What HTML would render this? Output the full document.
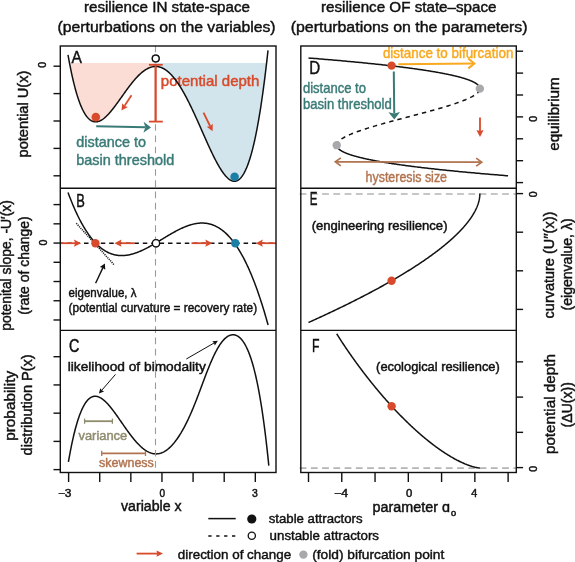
<!DOCTYPE html>
<html><head><meta charset="utf-8"><style>
html,body{margin:0;padding:0;background:#fff;width:575px;height:562px;overflow:hidden}
svg{display:block;will-change:transform}
text{font-family:"Liberation Sans",sans-serif}
</style></head><body>
<svg width="575" height="562" viewBox="0 0 575 562">
<rect width="575" height="562" fill="#fff"/>
<path d="M69.49,63.00 L69.78,64.51 L70.07,65.99 L70.36,67.45 L70.64,68.88 L70.93,70.29 L71.22,71.68 L71.51,73.04 L71.80,74.38 L72.09,75.70 L72.37,76.99 L72.66,78.26 L72.95,79.51 L73.24,80.74 L73.53,81.94 L73.81,83.13 L74.10,84.29 L74.39,85.43 L74.68,86.55 L74.97,87.64 L75.25,88.72 L75.54,89.77 L75.83,90.81 L76.12,91.82 L76.41,92.82 L76.70,93.79 L76.98,94.75 L77.27,95.68 L77.56,96.60 L77.85,97.49 L78.14,98.37 L78.42,99.22 L78.71,100.06 L79.00,100.88 L79.29,101.68 L79.58,102.47 L79.87,103.23 L80.15,103.98 L80.44,104.71 L80.73,105.42 L81.02,106.11 L81.31,106.78 L81.59,107.44 L81.88,108.08 L82.17,108.71 L82.46,109.32 L82.75,109.91 L83.04,110.48 L83.32,111.04 L83.61,111.58 L83.90,112.11 L84.19,112.62 L84.48,113.12 L84.76,113.60 L85.05,114.06 L85.34,114.51 L85.63,114.94 L85.92,115.36 L86.21,115.77 L86.49,116.16 L86.78,116.53 L87.07,116.89 L87.36,117.24 L87.65,117.58 L87.93,117.90 L88.22,118.20 L88.51,118.49 L88.80,118.77 L89.09,119.04 L89.38,119.29 L89.66,119.53 L89.95,119.76 L90.24,119.98 L90.53,120.18 L90.82,120.37 L91.10,120.55 L91.39,120.71 L91.68,120.87 L91.97,121.01 L92.26,121.14 L92.55,121.26 L92.83,121.37 L93.12,121.47 L93.41,121.55 L93.70,121.63 L93.99,121.69 L94.27,121.75 L94.56,121.79 L94.85,121.82 L95.14,121.85 L95.43,121.86 L95.72,121.86 L96.00,121.86 L96.29,121.84 L96.58,121.81 L96.87,121.78 L97.16,121.73 L97.44,121.68 L97.73,121.62 L98.02,121.55 L98.31,121.47 L98.60,121.38 L98.88,121.28 L99.17,121.18 L99.46,121.06 L99.75,120.94 L100.04,120.81 L100.33,120.67 L100.61,120.53 L100.90,120.38 L101.19,120.22 L101.48,120.05 L101.77,119.88 L102.05,119.69 L102.34,119.51 L102.63,119.31 L102.92,119.11 L103.21,118.90 L103.50,118.68 L103.78,118.46 L104.07,118.24 L104.36,118.00 L104.65,117.76 L104.94,117.52 L105.22,117.26 L105.51,117.01 L105.80,116.75 L106.09,116.48 L106.38,116.20 L106.67,115.93 L106.95,115.64 L107.24,115.35 L107.53,115.06 L107.82,114.76 L108.11,114.46 L108.39,114.15 L108.68,113.84 L108.97,113.53 L109.26,113.21 L109.55,112.88 L109.84,112.55 L110.12,112.22 L110.41,111.89 L110.70,111.55 L110.99,111.20 L111.28,110.86 L111.56,110.51 L111.85,110.15 L112.14,109.80 L112.43,109.44 L112.72,109.08 L113.01,108.71 L113.29,108.34 L113.58,107.97 L113.87,107.60 L114.16,107.22 L114.45,106.85 L114.73,106.47 L115.02,106.08 L115.31,105.70 L115.60,105.31 L115.89,104.93 L116.18,104.54 L116.46,104.14 L116.75,103.75 L117.04,103.36 L117.33,102.96 L117.62,102.56 L117.90,102.17 L118.19,101.77 L118.48,101.36 L118.77,100.96 L119.06,100.56 L119.34,100.16 L119.63,99.75 L119.92,99.35 L120.21,98.94 L120.50,98.54 L120.79,98.13 L121.07,97.73 L121.36,97.32 L121.65,96.91 L121.94,96.51 L122.23,96.10 L122.51,95.69 L122.80,95.29 L123.09,94.88 L123.38,94.48 L123.67,94.07 L123.96,93.67 L124.24,93.26 L124.53,92.86 L124.82,92.46 L125.11,92.06 L125.40,91.66 L125.68,91.26 L125.97,90.86 L126.26,90.46 L126.55,90.06 L126.84,89.67 L127.13,89.28 L127.41,88.88 L127.70,88.49 L127.99,88.10 L128.28,87.72 L128.57,87.33 L128.85,86.95 L129.14,86.57 L129.43,86.18 L129.72,85.81 L130.01,85.43 L130.30,85.06 L130.58,84.68 L130.87,84.32 L131.16,83.95 L131.45,83.58 L131.74,83.22 L132.02,82.86 L132.31,82.50 L132.60,82.15 L132.89,81.80 L133.18,81.45 L133.47,81.10 L133.75,80.76 L134.04,80.41 L134.33,80.08 L134.62,79.74 L134.91,79.41 L135.19,79.08 L135.48,78.76 L135.77,78.43 L136.06,78.11 L136.35,77.80 L136.64,77.49 L136.92,77.18 L137.21,76.87 L137.50,76.57 L137.79,76.27 L138.08,75.98 L138.36,75.69 L138.65,75.40 L138.94,75.12 L139.23,74.84 L139.52,74.56 L139.80,74.29 L140.09,74.02 L140.38,73.76 L140.67,73.50 L140.96,73.24 L141.25,72.99 L141.53,72.74 L141.82,72.50 L142.11,72.26 L142.40,72.03 L142.69,71.80 L142.97,71.57 L143.26,71.35 L143.55,71.13 L143.84,70.92 L144.13,70.71 L144.42,70.51 L144.70,70.31 L144.99,70.12 L145.28,69.93 L145.57,69.74 L145.86,69.56 L146.14,69.39 L146.43,69.22 L146.72,69.05 L147.01,68.89 L147.30,68.74 L147.59,68.59 L147.87,68.44 L148.16,68.30 L148.45,68.17 L148.74,68.04 L149.03,67.91 L149.31,67.79 L149.60,67.68 L149.89,67.57 L150.18,67.46 L150.47,67.36 L150.76,67.27 L151.04,67.18 L151.33,67.09 L151.62,67.02 L151.91,66.94 L152.20,66.88 L152.48,66.81 L152.77,66.76 L153.06,66.70 L153.35,66.66 L153.64,66.62 L153.93,66.58 L154.21,66.55 L154.50,66.53 L154.79,66.51 L155.08,66.50 L155.37,66.49 L155.65,66.49 L155.65,63.0 L69.49,63.0 Z" fill="#FCDDD5"/>
<path d="M155.65,66.49 L156.03,66.49 L156.40,66.51 L156.77,66.53 L157.14,66.56 L157.51,66.60 L157.88,66.66 L158.25,66.72 L158.62,66.79 L158.99,66.87 L159.36,66.96 L159.74,67.06 L160.11,67.16 L160.48,67.28 L160.85,67.41 L161.22,67.55 L161.59,67.69 L161.96,67.85 L162.33,68.01 L162.70,68.19 L163.07,68.37 L163.45,68.56 L163.82,68.76 L164.19,68.98 L164.56,69.20 L164.93,69.43 L165.30,69.67 L165.67,69.92 L166.04,70.18 L166.41,70.45 L166.78,70.72 L167.16,71.01 L167.53,71.31 L167.90,71.61 L168.27,71.93 L168.64,72.25 L169.01,72.58 L169.38,72.92 L169.75,73.28 L170.12,73.64 L170.50,74.01 L170.87,74.38 L171.24,74.77 L171.61,75.17 L171.98,75.57 L172.35,75.99 L172.72,76.41 L173.09,76.84 L173.46,77.28 L173.83,77.73 L174.21,78.19 L174.58,78.66 L174.95,79.13 L175.32,79.61 L175.69,80.10 L176.06,80.60 L176.43,81.11 L176.80,81.63 L177.17,82.15 L177.54,82.69 L177.92,83.23 L178.29,83.78 L178.66,84.33 L179.03,84.90 L179.40,85.47 L179.77,86.05 L180.14,86.63 L180.51,87.23 L180.88,87.83 L181.26,88.44 L181.63,89.06 L182.00,89.68 L182.37,90.31 L182.74,90.95 L183.11,91.59 L183.48,92.25 L183.85,92.90 L184.22,93.57 L184.59,94.24 L184.97,94.92 L185.34,95.60 L185.71,96.29 L186.08,96.99 L186.45,97.69 L186.82,98.40 L187.19,99.12 L187.56,99.84 L187.93,100.56 L188.30,101.29 L188.68,102.03 L189.05,102.77 L189.42,103.52 L189.79,104.27 L190.16,105.03 L190.53,105.79 L190.90,106.55 L191.27,107.33 L191.64,108.10 L192.01,108.88 L192.39,109.66 L192.76,110.45 L193.13,111.24 L193.50,112.04 L193.87,112.84 L194.24,113.64 L194.61,114.44 L194.98,115.25 L195.35,116.07 L195.73,116.88 L196.10,117.70 L196.47,118.52 L196.84,119.34 L197.21,120.16 L197.58,120.99 L197.95,121.82 L198.32,122.65 L198.69,123.48 L199.06,124.32 L199.44,125.15 L199.81,125.99 L200.18,126.83 L200.55,127.67 L200.92,128.51 L201.29,129.34 L201.66,130.18 L202.03,131.03 L202.40,131.87 L202.77,132.71 L203.15,133.55 L203.52,134.38 L203.89,135.22 L204.26,136.06 L204.63,136.90 L205.00,137.73 L205.37,138.57 L205.74,139.40 L206.11,140.23 L206.48,141.06 L206.86,141.89 L207.23,142.71 L207.60,143.53 L207.97,144.35 L208.34,145.16 L208.71,145.98 L209.08,146.79 L209.45,147.59 L209.82,148.39 L210.20,149.19 L210.57,149.99 L210.94,150.77 L211.31,151.56 L211.68,152.34 L212.05,153.11 L212.42,153.88 L212.79,154.65 L213.16,155.40 L213.53,156.16 L213.91,156.90 L214.28,157.64 L214.65,158.38 L215.02,159.10 L215.39,159.82 L215.76,160.53 L216.13,161.24 L216.50,161.93 L216.87,162.62 L217.24,163.30 L217.62,163.98 L217.99,164.64 L218.36,165.29 L218.73,165.94 L219.10,166.57 L219.47,167.20 L219.84,167.81 L220.21,168.42 L220.58,169.02 L220.95,169.60 L221.33,170.17 L221.70,170.74 L222.07,171.29 L222.44,171.83 L222.81,172.35 L223.18,172.87 L223.55,173.37 L223.92,173.86 L224.29,174.34 L224.67,174.80 L225.04,175.25 L225.41,175.68 L225.78,176.11 L226.15,176.51 L226.52,176.91 L226.89,177.28 L227.26,177.64 L227.63,177.99 L228.00,178.32 L228.38,178.64 L228.75,178.93 L229.12,179.22 L229.49,179.48 L229.86,179.73 L230.23,179.96 L230.60,180.17 L230.97,180.36 L231.34,180.54 L231.71,180.69 L232.09,180.83 L232.46,180.95 L232.83,181.05 L233.20,181.12 L233.57,181.18 L233.94,181.22 L234.31,181.24 L234.68,181.23 L235.05,181.20 L235.42,181.16 L235.80,181.09 L236.17,180.99 L236.54,180.88 L236.91,180.74 L237.28,180.58 L237.65,180.39 L238.02,180.18 L238.39,179.94 L238.76,179.68 L239.14,179.40 L239.51,179.09 L239.88,178.75 L240.25,178.39 L240.62,178.00 L240.99,177.59 L241.36,177.14 L241.73,176.67 L242.10,176.17 L242.47,175.65 L242.85,175.09 L243.22,174.51 L243.59,173.90 L243.96,173.25 L244.33,172.58 L244.70,171.88 L245.07,171.15 L245.44,170.38 L245.81,169.59 L246.18,168.76 L246.56,167.90 L246.93,167.01 L247.30,166.08 L247.67,165.12 L248.04,164.13 L248.41,163.10 L248.78,162.04 L249.15,160.95 L249.52,159.82 L249.89,158.65 L250.27,157.45 L250.64,156.21 L251.01,154.94 L251.38,153.63 L251.75,152.28 L252.12,150.89 L252.49,149.47 L252.86,148.00 L253.23,146.50 L253.61,144.96 L253.98,143.38 L254.35,141.76 L254.72,140.09 L255.09,138.39 L255.46,136.65 L255.83,134.86 L256.20,133.03 L256.57,131.16 L256.94,129.25 L257.32,127.29 L257.69,125.29 L258.06,123.24 L258.43,121.15 L258.80,119.02 L259.17,116.83 L259.54,114.61 L259.91,112.33 L260.28,110.01 L260.65,107.65 L261.03,105.23 L261.40,102.77 L261.77,100.26 L262.14,97.70 L262.51,95.09 L262.88,92.43 L263.25,89.72 L263.62,86.96 L263.99,84.15 L264.36,81.29 L264.74,78.37 L265.11,75.40 L265.48,72.38 L265.85,69.31 L266.22,66.18 L266.59,63.00 L266.59,63.0 L155.65,63.0 Z" fill="#D3E5EC"/>
<line x1="155.6" y1="64.8" x2="155.6" y2="121.6" stroke="#D84A2B" stroke-width="1.8"/>
<line x1="148.9" y1="64.8" x2="162.8" y2="64.8" stroke="#D84A2B" stroke-width="1.8"/>
<line x1="148.9" y1="121.6" x2="162.8" y2="121.6" stroke="#D84A2B" stroke-width="1.8"/>
<text x="160.80" y="85.50" font-size="14.3" fill="#D84A2B" stroke="#D84A2B" stroke-width="0.45" textLength="98.60" lengthAdjust="spacingAndGlyphs" >potential depth</text>
<path d="M68.00,54.81 L68.50,57.64 L69.00,60.39 L69.50,63.06 L70.01,65.67 L70.51,68.20 L71.01,70.65 L71.51,73.04 L72.01,75.35 L72.51,77.60 L73.01,79.78 L73.51,81.89 L74.02,83.94 L74.52,85.92 L75.02,87.83 L75.52,89.69 L76.02,91.48 L76.52,93.20 L77.02,94.87 L77.52,96.48 L78.03,98.03 L78.53,99.52 L79.03,100.96 L79.53,102.34 L80.03,103.66 L80.53,104.93 L81.03,106.14 L81.53,107.31 L82.04,108.42 L82.54,109.48 L83.04,110.49 L83.54,111.45 L84.04,112.36 L84.54,113.23 L85.04,114.04 L85.54,114.82 L86.05,115.54 L86.55,116.23 L87.05,116.87 L87.55,117.46 L88.05,118.02 L88.55,118.53 L89.05,119.01 L89.55,119.44 L90.06,119.84 L90.56,120.20 L91.06,120.52 L91.56,120.80 L92.06,121.05 L92.56,121.27 L93.06,121.45 L93.56,121.59 L94.07,121.71 L94.57,121.79 L95.07,121.84 L95.57,121.86 L96.07,121.85 L96.57,121.81 L97.07,121.75 L97.57,121.65 L98.08,121.53 L98.58,121.39 L99.08,121.21 L99.58,121.01 L100.08,120.79 L100.58,120.55 L101.08,120.28 L101.58,119.99 L102.09,119.67 L102.59,119.34 L103.09,118.99 L103.59,118.61 L104.09,118.22 L104.59,117.81 L105.09,117.38 L105.59,116.93 L106.10,116.47 L106.60,115.99 L107.10,115.50 L107.60,114.99 L108.10,114.47 L108.60,113.93 L109.10,113.38 L109.60,112.82 L110.11,112.24 L110.61,111.66 L111.11,111.06 L111.61,110.45 L112.11,109.83 L112.61,109.21 L113.11,108.57 L113.61,107.93 L114.12,107.28 L114.62,106.62 L115.12,105.96 L115.62,105.29 L116.12,104.61 L116.62,103.93 L117.12,103.24 L117.62,102.55 L118.13,101.86 L118.63,101.16 L119.13,100.46 L119.63,99.76 L120.13,99.05 L120.63,98.35 L121.13,97.64 L121.63,96.94 L122.14,96.23 L122.64,95.52 L123.14,94.82 L123.64,94.11 L124.14,93.41 L124.64,92.71 L125.14,92.01 L125.64,91.31 L126.15,90.62 L126.65,89.93 L127.15,89.25 L127.65,88.56 L128.15,87.89 L128.65,87.22 L129.15,86.55 L129.65,85.89 L130.16,85.24 L130.66,84.59 L131.16,83.95 L131.66,83.32 L132.16,82.69 L132.66,82.07 L133.16,81.46 L133.66,80.86 L134.17,80.27 L134.67,79.69 L135.17,79.11 L135.67,78.55 L136.17,77.99 L136.67,77.45 L137.17,76.91 L137.67,76.39 L138.18,75.88 L138.68,75.37 L139.18,74.88 L139.68,74.41 L140.18,73.94 L140.68,73.49 L141.18,73.04 L141.68,72.62 L142.19,72.20 L142.69,71.80 L143.19,71.41 L143.69,71.03 L144.19,70.67 L144.69,70.32 L145.19,69.99 L145.69,69.66 L146.20,69.36 L146.70,69.07 L147.20,68.79 L147.70,68.53 L148.20,68.28 L148.70,68.05 L149.20,67.84 L149.70,67.64 L150.21,67.45 L150.71,67.28 L151.21,67.13 L151.71,66.99 L152.21,66.87 L152.71,66.77 L153.21,66.68 L153.71,66.61 L154.22,66.55 L154.72,66.51 L155.22,66.49 L155.72,66.49 L156.22,66.50 L156.72,66.53 L157.22,66.57 L157.72,66.63 L158.23,66.71 L158.73,66.81 L159.23,66.92 L159.73,67.05 L160.23,67.20 L160.73,67.37 L161.23,67.55 L161.73,67.75 L162.24,67.97 L162.74,68.20 L163.24,68.45 L163.74,68.72 L164.24,69.01 L164.74,69.31 L165.24,69.63 L165.74,69.97 L166.25,70.32 L166.75,70.69 L167.25,71.08 L167.75,71.49 L168.25,71.91 L168.75,72.35 L169.25,72.80 L169.75,73.28 L170.26,73.77 L170.76,74.27 L171.26,74.79 L171.76,75.33 L172.26,75.89 L172.76,76.46 L173.26,77.04 L173.76,77.65 L174.27,78.26 L174.77,78.90 L175.27,79.55 L175.77,80.21 L176.27,80.89 L176.77,81.59 L177.27,82.30 L177.77,83.02 L178.28,83.76 L178.78,84.51 L179.28,85.28 L179.78,86.06 L180.28,86.86 L180.78,87.66 L181.28,88.49 L181.78,89.32 L182.29,90.17 L182.79,91.03 L183.29,91.91 L183.79,92.79 L184.29,93.69 L184.79,94.60 L185.29,95.52 L185.79,96.46 L186.30,97.40 L186.80,98.36 L187.30,99.32 L187.80,100.30 L188.30,101.29 L188.80,102.28 L189.30,103.29 L189.80,104.30 L190.31,105.33 L190.81,106.36 L191.31,107.40 L191.81,108.45 L192.31,109.51 L192.81,110.57 L193.31,111.64 L193.81,112.72 L194.32,113.80 L194.82,114.89 L195.32,115.99 L195.82,117.09 L196.32,118.19 L196.82,119.30 L197.32,120.42 L197.82,121.54 L198.33,122.66 L198.83,123.78 L199.33,124.91 L199.83,126.04 L200.33,127.17 L200.83,128.31 L201.33,129.44 L201.83,130.58 L202.34,131.71 L202.84,132.85 L203.34,133.98 L203.84,135.11 L204.34,136.25 L204.84,137.38 L205.34,138.50 L205.84,139.63 L206.35,140.75 L206.85,141.87 L207.35,142.98 L207.85,144.09 L208.35,145.19 L208.85,146.29 L209.35,147.38 L209.85,148.46 L210.36,149.54 L210.86,150.60 L211.36,151.66 L211.86,152.72 L212.36,153.76 L212.86,154.79 L213.36,155.81 L213.86,156.82 L214.37,157.82 L214.87,158.81 L215.37,159.78 L215.87,160.74 L216.37,161.69 L216.87,162.62 L217.37,163.54 L217.87,164.44 L218.38,165.32 L218.88,166.19 L219.38,167.04 L219.88,167.88 L220.38,168.69 L220.88,169.49 L221.38,170.26 L221.88,171.02 L222.39,171.75 L222.89,172.46 L223.39,173.15 L223.89,173.82 L224.39,174.46 L224.89,175.08 L225.39,175.67 L225.89,176.24 L226.40,176.78 L226.90,177.29 L227.40,177.77 L227.90,178.23 L228.40,178.66 L228.90,179.05 L229.40,179.42 L229.90,179.76 L230.41,180.06 L230.91,180.33 L231.41,180.57 L231.91,180.77 L232.41,180.94 L232.91,181.07 L233.41,181.16 L233.91,181.22 L234.42,181.24 L234.92,181.22 L235.42,181.16 L235.92,181.06 L236.42,180.92 L236.92,180.73 L237.42,180.51 L237.92,180.24 L238.43,179.92 L238.93,179.56 L239.43,179.16 L239.93,178.70 L240.43,178.20 L240.93,177.65 L241.43,177.05 L241.93,176.40 L242.44,175.70 L242.94,174.95 L243.44,174.15 L243.94,173.29 L244.44,172.37 L244.94,171.40 L245.44,170.38 L245.94,169.30 L246.45,168.15 L246.95,166.95 L247.45,165.69 L247.95,164.37 L248.45,162.99 L248.95,161.54 L249.45,160.03 L249.95,158.46 L250.46,156.82 L250.96,155.11 L251.46,153.34 L251.96,151.50 L252.46,149.59 L252.96,147.60 L253.46,145.55 L253.96,143.43 L254.47,141.23 L254.97,138.95 L255.47,136.61 L255.97,134.18 L256.47,131.68 L256.97,129.10 L257.47,126.44 L257.97,123.70 L258.48,120.88 L258.98,117.97 L259.48,114.99 L259.98,111.92 L260.48,108.76 L260.98,105.52 L261.48,102.18 L261.98,98.76 L262.49,95.26 L262.99,91.65 L263.49,87.96 L263.99,84.18 L264.49,80.30 L264.99,76.32 L265.49,72.25 L265.99,68.08 L266.50,63.82 L267.00,59.45 L267.50,54.98 L268.00,50.42" fill="none" stroke="#111" stroke-width="1.5"/>
<circle cx="95.8" cy="117.1" r="4.3" fill="#D84A2B"/>
<circle cx="234.6" cy="176.7" r="4.3" fill="#1B7EA5"/>
<circle cx="155.7" cy="58.5" r="3.4" fill="#fff" stroke="#111" stroke-width="1.3"/>
<line x1="131.50" y1="95.30" x2="124.54" y2="105.88" stroke="#D84A2B" stroke-width="1.8"/><polygon points="121.50,110.50 122.23,103.20 124.54,105.88 127.91,106.94" fill="#D84A2B"/>
<line x1="203.50" y1="112.70" x2="210.16" y2="126.24" stroke="#D84A2B" stroke-width="1.8"/><polygon points="212.60,131.20 206.68,126.87 210.16,126.24 212.78,123.87" fill="#D84A2B"/>
<line x1="96.20" y1="126.30" x2="145.38" y2="127.29" stroke="#3A7B77" stroke-width="2.0"/><polygon points="151.00,127.40 143.39,132.65 145.38,127.29 143.61,121.85" fill="#3A7B77"/>
<text x="71.50" y="63.00" font-size="16.8" fill="#111" stroke="#111" stroke-width="0.45" textLength="10.40" lengthAdjust="spacingAndGlyphs" >A</text>
<text x="76.30" y="146.70" font-size="14.5" fill="#3A7B77" stroke="#3A7B77" stroke-width="0.45" textLength="69.60" lengthAdjust="spacingAndGlyphs" >distance to</text>
<text x="76.30" y="165.30" font-size="14.5" fill="#3A7B77" stroke="#3A7B77" stroke-width="0.45" textLength="97.90" lengthAdjust="spacingAndGlyphs" >basin threshold</text>
<line x1="60.3" y1="243.2" x2="276.0" y2="243.2" stroke="#111" stroke-width="1.5" stroke-dasharray="4.5 3.9" stroke-dashoffset="1.50"/>
<line x1="76.3" y1="223.3" x2="114.6" y2="265.3" stroke="#111" stroke-width="1.5" stroke-dasharray="1.1 1.0"/>
<path d="M68.00,192.51 L68.50,193.86 L69.00,195.19 L69.50,196.50 L70.01,197.80 L70.51,199.08 L71.01,200.35 L71.51,201.59 L72.01,202.82 L72.51,204.03 L73.02,205.23 L73.52,206.40 L74.02,207.57 L74.52,208.71 L75.02,209.84 L75.52,210.95 L76.02,212.04 L76.53,213.12 L77.03,214.19 L77.53,215.23 L78.03,216.26 L78.53,217.28 L79.03,218.28 L79.53,219.26 L80.04,220.23 L80.54,221.18 L81.04,222.12 L81.54,223.04 L82.04,223.95 L82.54,224.84 L83.05,225.71 L83.55,226.57 L84.05,227.42 L84.55,228.25 L85.05,229.07 L85.55,229.87 L86.05,230.66 L86.56,231.43 L87.06,232.19 L87.56,232.94 L88.06,233.67 L88.56,234.39 L89.06,235.09 L89.56,235.78 L90.07,236.46 L90.57,237.12 L91.07,237.77 L91.57,238.40 L92.07,239.03 L92.57,239.63 L93.08,240.23 L93.58,240.81 L94.08,241.38 L94.58,241.94 L95.08,242.48 L95.58,243.02 L96.08,243.53 L96.59,244.04 L97.09,244.54 L97.59,245.02 L98.09,245.49 L98.59,245.94 L99.09,246.39 L99.59,246.82 L100.10,247.25 L100.60,247.66 L101.10,248.06 L101.60,248.44 L102.10,248.82 L102.60,249.18 L103.11,249.54 L103.61,249.88 L104.11,250.21 L104.61,250.53 L105.11,250.84 L105.61,251.14 L106.11,251.43 L106.62,251.70 L107.12,251.97 L107.62,252.23 L108.12,252.47 L108.62,252.71 L109.12,252.94 L109.62,253.15 L110.13,253.36 L110.63,253.55 L111.13,253.74 L111.63,253.92 L112.13,254.09 L112.63,254.24 L113.14,254.39 L113.64,254.53 L114.14,254.66 L114.64,254.78 L115.14,254.90 L115.64,255.00 L116.14,255.09 L116.65,255.18 L117.15,255.26 L117.65,255.33 L118.15,255.39 L118.65,255.44 L119.15,255.48 L119.65,255.52 L120.16,255.55 L120.66,255.57 L121.16,255.58 L121.66,255.59 L122.16,255.58 L122.66,255.57 L123.17,255.56 L123.67,255.53 L124.17,255.50 L124.67,255.46 L125.17,255.41 L125.67,255.36 L126.17,255.30 L126.68,255.23 L127.18,255.16 L127.68,255.08 L128.18,254.99 L128.68,254.90 L129.18,254.80 L129.68,254.69 L130.19,254.58 L130.69,254.46 L131.19,254.34 L131.69,254.21 L132.19,254.07 L132.69,253.93 L133.20,253.79 L133.70,253.63 L134.20,253.48 L134.70,253.32 L135.20,253.15 L135.70,252.98 L136.20,252.80 L136.71,252.62 L137.21,252.43 L137.71,252.24 L138.21,252.04 L138.71,251.84 L139.21,251.63 L139.72,251.42 L140.22,251.21 L140.72,250.99 L141.22,250.77 L141.72,250.54 L142.22,250.32 L142.72,250.08 L143.23,249.84 L143.73,249.60 L144.23,249.36 L144.73,249.11 L145.23,248.86 L145.73,248.61 L146.23,248.35 L146.74,248.09 L147.24,247.83 L147.74,247.56 L148.24,247.30 L148.74,247.03 L149.24,246.75 L149.75,246.48 L150.25,246.20 L150.75,245.92 L151.25,245.64 L151.75,245.35 L152.25,245.07 L152.75,244.78 L153.26,244.49 L153.76,244.20 L154.26,243.90 L154.76,243.61 L155.26,243.31 L155.76,243.02 L156.26,242.72 L156.77,242.42 L157.27,242.12 L157.77,241.82 L158.27,241.52 L158.77,241.22 L159.27,240.91 L159.78,240.61 L160.28,240.31 L160.78,240.00 L161.28,239.70 L161.78,239.39 L162.28,239.09 L162.78,238.78 L163.29,238.48 L163.79,238.17 L164.29,237.87 L164.79,237.57 L165.29,237.27 L165.79,236.96 L166.29,236.66 L166.80,236.36 L167.30,236.06 L167.80,235.76 L168.30,235.47 L168.80,235.17 L169.30,234.87 L169.81,234.58 L170.31,234.29 L170.81,234.00 L171.31,233.71 L171.81,233.42 L172.31,233.14 L172.81,232.85 L173.32,232.57 L173.82,232.29 L174.32,232.02 L174.82,231.74 L175.32,231.47 L175.82,231.20 L176.32,230.94 L176.83,230.67 L177.33,230.41 L177.83,230.15 L178.33,229.90 L178.83,229.65 L179.33,229.40 L179.84,229.15 L180.34,228.91 L180.84,228.67 L181.34,228.44 L181.84,228.20 L182.34,227.98 L182.84,227.75 L183.35,227.53 L183.85,227.32 L184.35,227.11 L184.85,226.90 L185.35,226.69 L185.85,226.50 L186.35,226.30 L186.86,226.11 L187.36,225.93 L187.86,225.75 L188.36,225.57 L188.86,225.40 L189.36,225.24 L189.87,225.08 L190.37,224.92 L190.87,224.78 L191.37,224.63 L191.87,224.49 L192.37,224.36 L192.87,224.24 L193.38,224.12 L193.88,224.00 L194.38,223.89 L194.88,223.79 L195.38,223.69 L195.88,223.60 L196.38,223.52 L196.89,223.44 L197.39,223.37 L197.89,223.31 L198.39,223.25 L198.89,223.20 L199.39,223.16 L199.90,223.12 L200.40,223.10 L200.90,223.07 L201.40,223.06 L201.90,223.05 L202.40,223.06 L202.90,223.06 L203.41,223.08 L203.91,223.10 L204.41,223.14 L204.91,223.18 L205.41,223.23 L205.91,223.28 L206.42,223.35 L206.92,223.42 L207.42,223.50 L207.92,223.59 L208.42,223.69 L208.92,223.80 L209.42,223.92 L209.93,224.05 L210.43,224.18 L210.93,224.33 L211.43,224.48 L211.93,224.64 L212.43,224.81 L212.93,225.00 L213.44,225.19 L213.94,225.39 L214.44,225.60 L214.94,225.82 L215.44,226.05 L215.94,226.30 L216.45,226.55 L216.95,226.81 L217.45,227.08 L217.95,227.36 L218.45,227.66 L218.95,227.96 L219.45,228.28 L219.96,228.60 L220.46,228.94 L220.96,229.29 L221.46,229.65 L221.96,230.02 L222.46,230.40 L222.96,230.79 L223.47,231.20 L223.97,231.61 L224.47,232.04 L224.97,232.48 L225.47,232.93 L225.97,233.40 L226.48,233.87 L226.98,234.36 L227.48,234.86 L227.98,235.38 L228.48,235.90 L228.98,236.44 L229.48,236.99 L229.99,237.56 L230.49,238.13 L230.99,238.72 L231.49,239.32 L231.99,239.94 L232.49,240.57 L232.99,241.21 L233.50,241.87 L234.00,242.54 L234.50,243.22 L235.00,243.92 L235.50,244.63 L236.00,245.35 L236.51,246.09 L237.01,246.84 L237.51,247.61 L238.01,248.39 L238.51,249.19 L239.01,250.00 L239.51,250.82 L240.02,251.66 L240.52,252.52 L241.02,253.39 L241.52,254.27 L242.02,255.17 L242.52,256.08 L243.02,257.01 L243.53,257.96 L244.03,258.92 L244.53,259.90 L245.03,260.89 L245.53,261.89 L246.03,262.92 L246.54,263.96 L247.04,265.01 L247.54,266.08 L248.04,267.17 L248.54,268.27 L249.04,269.39 L249.54,270.53 L250.05,271.68 L250.55,272.85 L251.05,274.04 L251.55,275.24 L252.05,276.46 L252.55,277.70 L253.05,278.96 L253.56,280.23 L254.06,281.52 L254.56,282.83 L255.06,284.15 L255.56,285.49 L256.06,286.85 L256.57,288.23 L257.07,289.62 L257.57,291.04 L258.07,292.47 L258.57,293.92 L259.07,295.39 L259.57,296.87 L260.08,298.38 L260.58,299.90 L261.08,301.44 L261.58,303.00 L262.08,304.58 L262.58,306.18 L263.08,307.80 L263.59,309.44 L264.09,311.09 L264.59,312.77 L265.09,314.46 L265.59,316.18 L266.09,317.91 L266.60,319.67 L267.10,321.44 L267.60,323.23 L268.10,325.05" fill="none" stroke="#111" stroke-width="1.5"/>
<line x1="60.30" y1="243.20" x2="75.05" y2="243.20" stroke="#D84A2B" stroke-width="1.8"/><polygon points="81.00,243.20 74.00,246.80 75.05,243.20 74.00,239.60" fill="#D84A2B"/>
<line x1="134.60" y1="243.20" x2="120.45" y2="243.20" stroke="#D84A2B" stroke-width="1.8"/><polygon points="114.50,243.20 121.50,239.60 120.45,243.20 121.50,246.80" fill="#D84A2B"/>
<line x1="191.50" y1="243.20" x2="206.35" y2="243.20" stroke="#D84A2B" stroke-width="1.8"/><polygon points="212.30,243.20 205.30,246.80 206.35,243.20 205.30,239.60" fill="#D84A2B"/>
<line x1="276.00" y1="243.20" x2="261.75" y2="243.20" stroke="#D84A2B" stroke-width="1.8"/><polygon points="255.80,243.20 262.80,239.60 261.75,243.20 262.80,246.80" fill="#D84A2B"/>
<circle cx="95.4" cy="243.2" r="4.2" fill="#D84A2B"/>
<circle cx="235.3" cy="243.2" r="4.3" fill="#1B7EA5"/>
<circle cx="156.0" cy="243.2" r="3.6" fill="#fff" stroke="#111" stroke-width="1.3"/>
<line x1="95.60" y1="283.30" x2="102.80" y2="267.88" stroke="#111" stroke-width="1.4"/><polygon points="104.90,263.40 105.29,269.65 102.80,267.88 99.85,267.11" fill="#111"/>
<text x="76.30" y="206.70" font-size="17.5" fill="#111" stroke="#111" stroke-width="0.45" textLength="8.60" lengthAdjust="spacingAndGlyphs" >B</text>
<text x="68.60" y="296.70" font-size="13" fill="#111" stroke="#111" stroke-width="0.45" textLength="67.90" lengthAdjust="spacingAndGlyphs" >eigenvalue, λ</text>
<text x="68.60" y="311.70" font-size="13" fill="#111" stroke="#111" stroke-width="0.45" textLength="188.50" lengthAdjust="spacingAndGlyphs" >(potential curvature = recovery rate)</text>
<path d="M68.40,461.97 L68.90,459.08 L69.40,456.28 L69.91,453.55 L70.41,450.90 L70.91,448.34 L71.41,445.84 L71.92,443.43 L72.42,441.09 L72.92,438.82 L73.42,436.63 L73.92,434.50 L74.43,432.45 L74.93,430.47 L75.43,428.55 L75.93,426.70 L76.44,424.92 L76.94,423.20 L77.44,421.55 L77.94,419.96 L78.45,418.43 L78.95,416.96 L79.45,415.55 L79.95,414.20 L80.45,412.91 L80.96,411.68 L81.46,410.50 L81.96,409.37 L82.46,408.30 L82.97,407.28 L83.47,406.31 L83.97,405.40 L84.47,404.53 L84.97,403.71 L85.48,402.94 L85.98,402.22 L86.48,401.54 L86.98,400.91 L87.49,400.33 L87.99,399.78 L88.49,399.28 L88.99,398.82 L89.49,398.41 L90.00,398.03 L90.50,397.69 L91.00,397.39 L91.50,397.12 L92.01,396.90 L92.51,396.71 L93.01,396.55 L93.51,396.43 L94.02,396.34 L94.52,396.28 L95.02,396.26 L95.52,396.26 L96.02,396.30 L96.53,396.37 L97.03,396.46 L97.53,396.58 L98.03,396.73 L98.54,396.91 L99.04,397.11 L99.54,397.34 L100.04,397.59 L100.54,397.86 L101.05,398.16 L101.55,398.48 L102.05,398.82 L102.55,399.19 L103.06,399.57 L103.56,399.97 L104.06,400.39 L104.56,400.83 L105.06,401.29 L105.57,401.76 L106.07,402.25 L106.57,402.75 L107.07,403.27 L107.58,403.81 L108.08,404.36 L108.58,404.92 L109.08,405.50 L109.58,406.08 L110.09,406.68 L110.59,407.29 L111.09,407.92 L111.59,408.55 L112.10,409.19 L112.60,409.84 L113.10,410.49 L113.60,411.16 L114.11,411.83 L114.61,412.51 L115.11,413.20 L115.61,413.89 L116.11,414.59 L116.62,415.29 L117.12,416.00 L117.62,416.71 L118.12,417.43 L118.63,418.14 L119.13,418.86 L119.63,419.59 L120.13,420.31 L120.63,421.03 L121.14,421.76 L121.64,422.49 L122.14,423.21 L122.64,423.94 L123.15,424.66 L123.65,425.38 L124.15,426.10 L124.65,426.82 L125.15,427.54 L125.66,428.25 L126.16,428.96 L126.66,429.67 L127.16,430.37 L127.67,431.07 L128.17,431.76 L128.67,432.45 L129.17,433.13 L129.68,433.81 L130.18,434.48 L130.68,435.14 L131.18,435.79 L131.68,436.44 L132.19,437.08 L132.69,437.72 L133.19,438.34 L133.69,438.96 L134.20,439.57 L134.70,440.16 L135.20,440.75 L135.70,441.33 L136.20,441.90 L136.71,442.46 L137.21,443.01 L137.71,443.54 L138.21,444.07 L138.72,444.59 L139.22,445.09 L139.72,445.58 L140.22,446.06 L140.72,446.53 L141.23,446.98 L141.73,447.42 L142.23,447.85 L142.73,448.27 L143.24,448.67 L143.74,449.06 L144.24,449.43 L144.74,449.80 L145.25,450.14 L145.75,450.48 L146.25,450.79 L146.75,451.10 L147.25,451.39 L147.76,451.66 L148.26,451.92 L148.76,452.16 L149.26,452.39 L149.77,452.60 L150.27,452.80 L150.77,452.98 L151.27,453.14 L151.77,453.29 L152.28,453.42 L152.78,453.54 L153.28,453.64 L153.78,453.72 L154.29,453.79 L154.79,453.84 L155.29,453.87 L155.79,453.89 L156.29,453.89 L156.80,453.87 L157.30,453.84 L157.80,453.79 L158.30,453.72 L158.81,453.63 L159.31,453.53 L159.81,453.41 L160.31,453.28 L160.82,453.12 L161.32,452.95 L161.82,452.76 L162.32,452.56 L162.82,452.33 L163.33,452.09 L163.83,451.84 L164.33,451.56 L164.83,451.27 L165.34,450.96 L165.84,450.64 L166.34,450.29 L166.84,449.93 L167.34,449.56 L167.85,449.16 L168.35,448.75 L168.85,448.32 L169.35,447.88 L169.86,447.42 L170.36,446.94 L170.86,446.44 L171.36,445.93 L171.86,445.40 L172.37,444.86 L172.87,444.30 L173.37,443.72 L173.87,443.12 L174.38,442.51 L174.88,441.88 L175.38,441.24 L175.88,440.57 L176.38,439.90 L176.89,439.20 L177.39,438.49 L177.89,437.76 L178.39,437.02 L178.90,436.26 L179.40,435.48 L179.90,434.69 L180.40,433.88 L180.91,433.06 L181.41,432.21 L181.91,431.36 L182.41,430.48 L182.91,429.59 L183.42,428.69 L183.92,427.77 L184.42,426.83 L184.92,425.87 L185.43,424.90 L185.93,423.92 L186.43,422.91 L186.93,421.89 L187.43,420.86 L187.94,419.81 L188.44,418.74 L188.94,417.66 L189.44,416.56 L189.95,415.45 L190.45,414.32 L190.95,413.18 L191.45,412.02 L191.95,410.84 L192.46,409.65 L192.96,408.45 L193.46,407.23 L193.96,406.00 L194.47,404.76 L194.97,403.50 L195.47,402.23 L195.97,400.96 L196.48,399.67 L196.98,398.37 L197.48,397.06 L197.98,395.74 L198.48,394.42 L198.99,393.09 L199.49,391.75 L199.99,390.41 L200.49,389.07 L201.00,387.72 L201.50,386.37 L202.00,385.02 L202.50,383.67 L203.00,382.32 L203.51,380.98 L204.01,379.64 L204.51,378.30 L205.01,376.98 L205.52,375.65 L206.02,374.34 L206.52,373.04 L207.02,371.75 L207.52,370.46 L208.03,369.20 L208.53,367.94 L209.03,366.70 L209.53,365.47 L210.04,364.26 L210.54,363.07 L211.04,361.89 L211.54,360.73 L212.05,359.59 L212.55,358.47 L213.05,357.37 L213.55,356.29 L214.05,355.24 L214.56,354.20 L215.06,353.19 L215.56,352.20 L216.06,351.24 L216.57,350.30 L217.07,349.38 L217.57,348.49 L218.07,347.63 L218.57,346.79 L219.08,345.98 L219.58,345.19 L220.08,344.44 L220.58,343.71 L221.09,343.00 L221.59,342.33 L222.09,341.68 L222.59,341.07 L223.09,340.48 L223.60,339.92 L224.10,339.38 L224.60,338.88 L225.10,338.41 L225.61,337.96 L226.11,337.55 L226.61,337.16 L227.11,336.80 L227.62,336.48 L228.12,336.18 L228.62,335.90 L229.12,335.66 L229.62,335.45 L230.13,335.27 L230.63,335.11 L231.13,334.98 L231.63,334.89 L232.14,334.82 L232.64,334.78 L233.14,334.78 L233.64,334.80 L234.14,334.85 L234.65,334.94 L235.15,335.05 L235.65,335.20 L236.15,335.38 L236.66,335.59 L237.16,335.84 L237.66,336.12 L238.16,336.43 L238.66,336.78 L239.17,337.16 L239.67,337.58 L240.17,338.04 L240.67,338.54 L241.18,339.07 L241.68,339.64 L242.18,340.26 L242.68,340.91 L243.18,341.61 L243.69,342.35 L244.19,343.13 L244.69,343.96 L245.19,344.84 L245.70,345.76 L246.20,346.73 L246.70,347.75 L247.20,348.82 L247.71,349.94 L248.21,351.11 L248.71,352.34 L249.21,353.63 L249.71,354.97 L250.22,356.37 L250.72,357.83 L251.22,359.35 L251.72,360.93 L252.23,362.58 L252.73,364.29 L253.23,366.07 L253.73,367.92 L254.23,369.84 L254.74,371.83 L255.24,373.90 L255.74,376.04 L256.24,378.25 L256.75,380.55 L257.25,382.93 L257.75,385.39 L258.25,387.94 L258.75,390.58 L259.26,393.30 L259.76,396.12 L260.26,399.03 L260.76,402.04 L261.27,405.14 L261.77,408.35 L262.27,411.67 L262.77,415.09 L263.28,418.62 L263.78,422.27 L264.28,426.03 L264.78,429.91 L265.28,433.91 L265.79,438.03 L266.29,442.29 L266.79,446.67 L267.29,451.19 L267.80,455.85 L268.30,460.65 L268.80,465.60" fill="none" stroke="#111" stroke-width="1.5"/>
<line x1="84.6" y1="421.2" x2="112.4" y2="421.2" stroke="#8E8C6E" stroke-width="1.8"/>
<line x1="84.6" y1="418.6" x2="84.6" y2="423.8" stroke="#8E8C6E" stroke-width="1.3"/>
<line x1="112.4" y1="418.6" x2="112.4" y2="423.8" stroke="#8E8C6E" stroke-width="1.3"/>
<line x1="101.7" y1="453.4" x2="145.5" y2="453.4" stroke="#B27450" stroke-width="1.8"/>
<line x1="101.7" y1="450.8" x2="101.7" y2="456.0" stroke="#B27450" stroke-width="1.3"/>
<line x1="145.5" y1="450.8" x2="145.5" y2="456.0" stroke="#B27450" stroke-width="1.3"/>
<line x1="115.50" y1="374.40" x2="101.84" y2="390.20" stroke="#111" stroke-width="1.0"/><polygon points="98.90,393.60 100.28,388.18 101.84,390.20 104.06,391.45" fill="#111"/>
<line x1="186.30" y1="359.00" x2="214.00" y2="343.05" stroke="#111" stroke-width="1.0"/><polygon points="217.90,340.80 214.81,345.46 214.00,343.05 212.32,341.13" fill="#111"/>
<text x="69.00" y="352.00" font-size="17.5" fill="#111" stroke="#111" stroke-width="0.45" textLength="10.40" lengthAdjust="spacingAndGlyphs" >C</text>
<text x="67.70" y="370.80" font-size="12.8" fill="#111" stroke="#111" stroke-width="0.45" textLength="138.10" lengthAdjust="spacingAndGlyphs" >likelihood of bimodality</text>
<text x="78.50" y="440.00" font-size="13" fill="#8E8C6E" stroke="#8E8C6E" stroke-width="0.45" textLength="48.70" lengthAdjust="spacingAndGlyphs" >variance</text>
<text x="99.00" y="467.00" font-size="13" fill="#B27450" stroke="#B27450" stroke-width="0.45" textLength="54.80" lengthAdjust="spacingAndGlyphs" >skewness</text>
<line x1="155.5" y1="45.6" x2="155.5" y2="472.5" stroke="#9A9A9A" stroke-width="1.1" stroke-dasharray="6.6 4.63"/>
<line x1="155.6" y1="64.8" x2="155.6" y2="121.6" stroke="#D84A2B" stroke-width="1.8"/>
<circle cx="155.7" cy="58.5" r="3.4" fill="#fff" stroke="#111" stroke-width="1.3"/>
<circle cx="156.0" cy="243.2" r="3.6" fill="#fff" stroke="#111" stroke-width="1.3"/>
<path d="M308.52,58.01 L310.46,58.16 L312.39,58.32 L314.31,58.47 L316.22,58.62 L318.11,58.78 L319.99,58.93 L321.85,59.09 L323.70,59.24 L325.54,59.39 L327.37,59.55 L329.18,59.70 L330.98,59.86 L332.77,60.01 L334.54,60.16 L336.31,60.32 L338.06,60.47 L339.79,60.62 L341.52,60.78 L343.23,60.93 L344.93,61.09 L346.61,61.24 L348.29,61.39 L349.95,61.55 L351.60,61.70 L353.23,61.86 L354.86,62.01 L356.47,62.16 L358.07,62.32 L359.65,62.47 L361.23,62.62 L362.79,62.78 L364.34,62.93 L365.88,63.09 L367.41,63.24 L368.92,63.39 L370.42,63.55 L371.91,63.70 L373.39,63.86 L374.86,64.01 L376.31,64.16 L377.75,64.32 L379.18,64.47 L380.60,64.62 L382.01,64.78 L383.41,64.93 L384.79,65.09 L386.16,65.24 L387.52,65.39 L388.87,65.55 L390.21,65.70 L391.53,65.86 L392.85,66.01 L394.15,66.16 L395.44,66.32 L396.72,66.47 L397.99,66.63 L399.25,66.78 L400.49,66.93 L401.73,67.09 L402.95,67.24 L404.16,67.39 L405.37,67.55 L406.56,67.70 L407.74,67.86 L408.90,68.01 L410.06,68.16 L411.21,68.32 L412.34,68.47 L413.47,68.63 L414.58,68.78 L415.68,68.93 L416.77,69.09 L417.86,69.24 L418.93,69.39 L419.99,69.55 L421.04,69.70 L422.07,69.86 L423.10,70.01 L424.12,70.16 L425.13,70.32 L426.12,70.47 L427.11,70.63 L428.08,70.78 L429.05,70.93 L430.00,71.09 L430.95,71.24 L431.88,71.39 L432.81,71.55 L433.72,71.70 L434.62,71.86 L435.52,72.01 L436.40,72.16 L437.27,72.32 L438.14,72.47 L438.99,72.63 L439.83,72.78 L440.67,72.93 L441.49,73.09 L442.31,73.24 L443.11,73.39 L443.90,73.55 L444.69,73.70 L445.46,73.86 L446.23,74.01 L446.98,74.16 L447.73,74.32 L448.47,74.47 L449.19,74.63 L449.91,74.78 L450.62,74.93 L451.31,75.09 L452.00,75.24 L452.68,75.40 L453.35,75.55 L454.01,75.70 L454.67,75.86 L455.31,76.01 L455.94,76.16 L456.56,76.32 L457.18,76.47 L457.79,76.63 L458.38,76.78 L458.97,76.93 L459.55,77.09 L460.12,77.24 L460.68,77.40 L461.23,77.55 L461.77,77.70 L462.31,77.86 L462.83,78.01 L463.35,78.16 L463.86,78.32 L464.36,78.47 L464.85,78.63 L465.33,78.78 L465.80,78.93 L466.27,79.09 L466.73,79.24 L467.17,79.40 L467.61,79.55 L468.04,79.70 L468.47,79.86 L468.88,80.01 L469.29,80.16 L469.69,80.32 L470.08,80.47 L470.46,80.63 L470.83,80.78 L471.20,80.93 L471.55,81.09 L471.90,81.24 L472.24,81.40 L472.58,81.55 L472.90,81.70 L473.22,81.86 L473.53,82.01 L473.83,82.17 L474.12,82.32 L474.41,82.47 L474.69,82.63 L474.96,82.78 L475.22,82.93 L475.47,83.09 L475.72,83.24 L475.96,83.40 L476.19,83.55 L476.42,83.70 L476.64,83.86 L476.85,84.01 L477.05,84.17 L477.25,84.32 L477.43,84.47 L477.61,84.63 L477.79,84.78 L477.95,84.93 L478.11,85.09 L478.26,85.24 L478.41,85.40 L478.55,85.55 L478.68,85.70 L478.80,85.86 L478.92,86.01 L479.03,86.17 L479.13,86.32 L479.23,86.47 L479.31,86.63 L479.40,86.78 L479.47,86.93 L479.54,87.09 L479.60,87.24 L479.66,87.40 L479.71,87.55 L479.75,87.70 L479.78,87.86 L479.81,88.01 L479.84,88.17 L479.85,88.32 L479.86,88.47 L479.86,88.63" fill="none" stroke="#111" stroke-width="1.5"/>
<path d="M479.86,88.63 L479.85,88.91 L479.82,89.20 L479.77,89.48 L479.69,89.76 L479.60,90.05 L479.48,90.33 L479.35,90.62 L479.19,90.90 L479.01,91.18 L478.82,91.47 L478.60,91.75 L478.37,92.04 L478.11,92.32 L477.84,92.61 L477.55,92.89 L477.24,93.17 L476.91,93.46 L476.56,93.74 L476.20,94.03 L475.82,94.31 L475.42,94.59 L475.00,94.88 L474.57,95.16 L474.12,95.45 L473.65,95.73 L473.17,96.02 L472.67,96.30 L472.16,96.58 L471.63,96.87 L471.09,97.15 L470.53,97.44 L469.95,97.72 L469.36,98.00 L468.76,98.29 L468.14,98.57 L467.51,98.86 L466.86,99.14 L466.20,99.42 L465.53,99.71 L464.84,99.99 L464.14,100.28 L463.43,100.56 L462.70,100.85 L461.97,101.13 L461.22,101.41 L460.46,101.70 L459.68,101.98 L458.90,102.27 L458.10,102.55 L457.30,102.83 L456.48,103.12 L455.65,103.40 L454.81,103.69 L453.97,103.97 L453.11,104.26 L452.24,104.54 L451.36,104.82 L450.48,105.11 L449.58,105.39 L448.68,105.68 L447.76,105.96 L446.84,106.24 L445.91,106.53 L444.97,106.81 L444.03,107.10 L443.08,107.38 L442.12,107.67 L441.15,107.95 L440.17,108.23 L439.19,108.52 L438.21,108.80 L437.21,109.09 L436.21,109.37 L435.21,109.65 L434.20,109.94 L433.18,110.22 L432.16,110.51 L431.13,110.79 L430.10,111.07 L429.07,111.36 L428.03,111.64 L426.99,111.93 L425.94,112.21 L424.89,112.50 L423.83,112.78 L422.78,113.06 L421.71,113.35 L420.65,113.63 L419.59,113.92 L418.52,114.20 L417.45,114.48 L416.38,114.77 L415.30,115.05 L414.23,115.34 L413.15,115.62 L412.07,115.91 L411.00,116.19 L409.92,116.47 L408.84,116.76 L407.76,117.04 L406.68,117.33 L405.60,117.61 L404.53,117.89 L403.45,118.18 L402.37,118.46 L401.30,118.75 L400.22,119.03 L399.15,119.32 L398.08,119.60 L397.01,119.88 L395.95,120.17 L394.89,120.45 L393.82,120.74 L392.77,121.02 L391.71,121.30 L390.66,121.59 L389.61,121.87 L388.57,122.16 L387.53,122.44 L386.50,122.73 L385.47,123.01 L384.44,123.29 L383.42,123.58 L382.40,123.86 L381.39,124.15 L380.39,124.43 L379.39,124.71 L378.39,125.00 L377.41,125.28 L376.43,125.57 L375.45,125.85 L374.48,126.13 L373.52,126.42 L372.57,126.70 L371.63,126.99 L370.69,127.27 L369.76,127.56 L368.84,127.84 L367.92,128.12 L367.02,128.41 L366.12,128.69 L365.24,128.98 L364.36,129.26 L363.49,129.54 L362.63,129.83 L361.79,130.11 L360.95,130.40 L360.12,130.68 L359.30,130.97 L358.50,131.25 L357.70,131.53 L356.92,131.82 L356.14,132.10 L355.38,132.39 L354.63,132.67 L353.90,132.95 L353.17,133.24 L352.46,133.52 L351.76,133.81 L351.07,134.09 L350.40,134.38 L349.74,134.66 L349.09,134.94 L348.46,135.23 L347.84,135.51 L347.24,135.80 L346.65,136.08 L346.07,136.36 L345.51,136.65 L344.97,136.93 L344.44,137.22 L343.93,137.50 L343.43,137.78 L342.95,138.07 L342.48,138.35 L342.03,138.64 L341.60,138.92 L341.18,139.21 L340.78,139.49 L340.40,139.77 L340.04,140.06 L339.69,140.34 L339.36,140.63 L339.05,140.91 L338.76,141.19 L338.49,141.48 L338.23,141.76 L338.00,142.05 L337.78,142.33 L337.59,142.62 L337.41,142.90 L337.25,143.18 L337.12,143.47 L337.00,143.75 L336.91,144.04 L336.83,144.32 L336.78,144.60 L336.75,144.89 L336.74,145.17" fill="none" stroke="#111" stroke-width="1.5" stroke-dasharray="4.4 4.07" stroke-dashoffset="-0.87"/>
<path d="M336.74,145.17 L336.74,145.33 L336.75,145.48 L336.76,145.63 L336.79,145.79 L336.82,145.94 L336.85,146.10 L336.89,146.25 L336.94,146.40 L337.00,146.56 L337.06,146.71 L337.13,146.87 L337.20,147.02 L337.29,147.17 L337.37,147.33 L337.47,147.48 L337.57,147.63 L337.68,147.79 L337.80,147.94 L337.92,148.10 L338.05,148.25 L338.19,148.40 L338.34,148.56 L338.49,148.71 L338.65,148.87 L338.81,149.02 L338.99,149.17 L339.17,149.33 L339.35,149.48 L339.55,149.63 L339.75,149.79 L339.96,149.94 L340.18,150.10 L340.41,150.25 L340.64,150.40 L340.88,150.56 L341.13,150.71 L341.38,150.87 L341.64,151.02 L341.91,151.17 L342.19,151.33 L342.48,151.48 L342.77,151.63 L343.07,151.79 L343.38,151.94 L343.70,152.10 L344.02,152.25 L344.36,152.40 L344.70,152.56 L345.05,152.71 L345.40,152.87 L345.77,153.02 L346.14,153.17 L346.52,153.33 L346.91,153.48 L347.31,153.64 L347.72,153.79 L348.13,153.94 L348.56,154.10 L348.99,154.25 L349.43,154.40 L349.87,154.56 L350.33,154.71 L350.80,154.87 L351.27,155.02 L351.75,155.17 L352.24,155.33 L352.74,155.48 L353.25,155.64 L353.77,155.79 L354.29,155.94 L354.83,156.10 L355.37,156.25 L355.92,156.40 L356.48,156.56 L357.05,156.71 L357.63,156.87 L358.22,157.02 L358.81,157.17 L359.42,157.33 L360.04,157.48 L360.66,157.64 L361.29,157.79 L361.93,157.94 L362.59,158.10 L363.25,158.25 L363.92,158.40 L364.60,158.56 L365.29,158.71 L365.98,158.87 L366.69,159.02 L367.41,159.17 L368.13,159.33 L368.87,159.48 L369.62,159.64 L370.37,159.79 L371.14,159.94 L371.91,160.10 L372.70,160.25 L373.49,160.41 L374.29,160.56 L375.11,160.71 L375.93,160.87 L376.77,161.02 L377.61,161.17 L378.46,161.33 L379.33,161.48 L380.20,161.64 L381.08,161.79 L381.98,161.94 L382.88,162.10 L383.79,162.25 L384.72,162.41 L385.65,162.56 L386.60,162.71 L387.55,162.87 L388.52,163.02 L389.49,163.17 L390.48,163.33 L391.47,163.48 L392.48,163.64 L393.50,163.79 L394.53,163.94 L395.56,164.10 L396.61,164.25 L397.67,164.41 L398.74,164.56 L399.83,164.71 L400.92,164.87 L402.02,165.02 L403.13,165.17 L404.26,165.33 L405.39,165.48 L406.54,165.64 L407.70,165.79 L408.86,165.94 L410.04,166.10 L411.23,166.25 L412.44,166.41 L413.65,166.56 L414.87,166.71 L416.11,166.87 L417.35,167.02 L418.61,167.17 L419.88,167.33 L421.16,167.48 L422.45,167.64 L423.75,167.79 L425.07,167.94 L426.39,168.10 L427.73,168.25 L429.08,168.41 L430.44,168.56 L431.81,168.71 L433.19,168.87 L434.59,169.02 L436.00,169.18 L437.42,169.33 L438.85,169.48 L440.29,169.64 L441.74,169.79 L443.21,169.94 L444.69,170.10 L446.18,170.25 L447.68,170.41 L449.19,170.56 L450.72,170.71 L452.26,170.87 L453.81,171.02 L455.37,171.18 L456.95,171.33 L458.53,171.48 L460.13,171.64 L461.74,171.79 L463.37,171.94 L465.00,172.10 L466.65,172.25 L468.31,172.41 L469.99,172.56 L471.67,172.71 L473.37,172.87 L475.08,173.02 L476.81,173.18 L478.54,173.33 L480.29,173.48 L482.06,173.64 L483.83,173.79 L485.62,173.94 L487.42,174.10 L489.23,174.25 L491.06,174.41 L492.90,174.56 L494.75,174.71 L496.61,174.87 L498.49,175.02 L500.38,175.18 L502.29,175.33 L504.21,175.48 L506.14,175.64 L508.08,175.79" fill="none" stroke="#111" stroke-width="1.5"/>
<circle cx="479.86" cy="88.63" r="4.2" fill="#A8A9AD"/>
<circle cx="336.74" cy="145.17" r="4.2" fill="#A8A9AD"/>
<line x1="398.30" y1="64.30" x2="474.30" y2="63.40" stroke="#F8A91F" stroke-width="2.0"/><polyline points="468.36,68.37 474.30,63.40 468.24,58.57" fill="none" stroke="#F8A91F" stroke-width="2.0" stroke-linejoin="miter"/>
<line x1="393.80" y1="71.60" x2="394.24" y2="113.60" stroke="#3A7B77" stroke-width="2.0"/><polygon points="394.30,119.60 388.42,112.16 394.24,113.60 400.02,112.04" fill="#3A7B77"/>
<circle cx="391.6" cy="65.6" r="4.2" fill="#D84A2B"/>
<line x1="480.00" y1="117.40" x2="480.00" y2="131.05" stroke="#D84A2B" stroke-width="1.8"/><polygon points="480.00,137.00 476.40,130.00 480.00,131.05 483.60,130.00" fill="#D84A2B"/>
<line x1="335.30" y1="161.80" x2="481.70" y2="162.20" stroke="#B27450" stroke-width="1.7"/><polyline points="476.19,166.18 481.70,162.20 476.21,158.18" fill="none" stroke="#B27450" stroke-width="1.7" stroke-linejoin="miter"/><polyline points="340.81,157.82 335.30,161.80 340.79,165.82" fill="none" stroke="#B27450" stroke-width="1.7" stroke-linejoin="miter"/>
<text x="309.20" y="73.50" font-size="17.5" fill="#111" stroke="#111" stroke-width="0.45" textLength="10.90" lengthAdjust="spacingAndGlyphs" >D</text>
<text x="382.90" y="58.30" font-size="14.5" fill="#F8A91F" stroke="#F8A91F" stroke-width="0.45" textLength="130.50" lengthAdjust="spacingAndGlyphs" >distance to bifurcation</text>
<text x="302.90" y="92.60" font-size="14.5" fill="#3A7B77" stroke="#3A7B77" stroke-width="0.45" textLength="63.10" lengthAdjust="spacingAndGlyphs" >distance to</text>
<text x="302.90" y="108.50" font-size="14.5" fill="#3A7B77" stroke="#3A7B77" stroke-width="0.45" textLength="88.90" lengthAdjust="spacingAndGlyphs" >basin threshold</text>
<text x="365.60" y="181.70" font-size="14.5" fill="#B27450" stroke="#B27450" stroke-width="0.45" textLength="81.40" lengthAdjust="spacingAndGlyphs" >hysteresis size</text>
<line x1="299.6" y1="194.0" x2="516.3" y2="194.0" stroke="#B4B4B4" stroke-width="1.7" stroke-dasharray="6.8 4.45"/>
<path d="M308.52,322.48 L309.82,321.89 L311.10,321.31 L312.39,320.73 L313.67,320.15 L314.94,319.58 L316.20,319.00 L317.46,318.42 L318.72,317.85 L319.97,317.27 L321.21,316.70 L322.45,316.13 L323.68,315.56 L324.90,314.99 L326.12,314.42 L327.34,313.85 L328.55,313.29 L329.75,312.72 L330.95,312.16 L332.14,311.59 L333.32,311.03 L334.50,310.47 L335.68,309.91 L336.85,309.35 L338.01,308.79 L339.17,308.23 L340.32,307.67 L341.46,307.12 L342.60,306.56 L343.74,306.01 L344.87,305.46 L345.99,304.91 L347.11,304.36 L348.22,303.81 L349.33,303.26 L350.43,302.71 L351.53,302.16 L352.62,301.62 L353.71,301.07 L354.79,300.53 L355.86,299.99 L356.93,299.45 L357.99,298.91 L359.05,298.37 L360.10,297.83 L361.15,297.29 L362.19,296.76 L363.23,296.22 L364.26,295.69 L365.28,295.15 L366.30,294.62 L367.32,294.09 L368.33,293.56 L369.33,293.03 L370.33,292.50 L371.33,291.97 L372.31,291.45 L373.30,290.92 L374.27,290.40 L375.25,289.87 L376.21,289.35 L377.18,288.83 L378.13,288.31 L379.08,287.79 L380.03,287.27 L380.97,286.76 L381.91,286.24 L382.84,285.73 L383.76,285.21 L384.68,284.70 L385.60,284.19 L386.51,283.68 L387.41,283.17 L388.31,282.66 L389.21,282.15 L390.10,281.64 L390.98,281.14 L391.86,280.63 L392.73,280.13 L393.60,279.62 L394.47,279.12 L395.33,278.62 L396.18,278.12 L397.03,277.62 L397.87,277.12 L398.71,276.63 L399.54,276.13 L400.37,275.64 L401.20,275.14 L402.02,274.65 L402.83,274.16 L403.64,273.67 L404.44,273.18 L405.24,272.69 L406.04,272.20 L406.83,271.71 L407.61,271.23 L408.39,270.74 L409.16,270.26 L409.93,269.78 L410.70,269.30 L411.46,268.82 L412.21,268.34 L412.96,267.86 L413.71,267.38 L414.45,266.90 L415.19,266.43 L415.92,265.95 L416.64,265.48 L417.37,265.01 L418.08,264.54 L418.79,264.06 L419.50,263.60 L420.20,263.13 L420.90,262.66 L421.60,262.19 L422.28,261.73 L422.97,261.26 L423.65,260.80 L424.32,260.34 L424.99,259.88 L425.66,259.42 L426.32,258.96 L426.97,258.50 L427.63,258.04 L428.27,257.58 L428.91,257.13 L429.55,256.67 L430.18,256.22 L430.81,255.77 L431.44,255.32 L432.06,254.87 L432.67,254.42 L433.28,253.97 L433.89,253.52 L434.49,253.08 L435.09,252.63 L435.68,252.19 L436.27,251.74 L436.85,251.30 L437.43,250.86 L438.00,250.42 L438.57,249.98 L439.14,249.54 L439.70,249.11 L440.26,248.67 L440.81,248.23 L441.36,247.80 L441.90,247.37 L442.44,246.94 L442.98,246.50 L443.51,246.07 L444.03,245.65 L444.56,245.22 L445.07,244.79 L445.59,244.36 L446.10,243.94 L446.60,243.52 L447.10,243.09 L447.60,242.67 L448.09,242.25 L448.58,241.83 L449.06,241.41 L449.54,240.99 L450.02,240.58 L450.49,240.16 L450.95,239.75 L451.42,239.33 L451.88,238.92 L452.33,238.51 L452.78,238.10 L453.23,237.69 L453.67,237.28 L454.11,236.87 L454.54,236.46 L454.97,236.06 L455.40,235.65 L455.82,235.25 L456.23,234.85 L456.65,234.45 L457.06,234.04 L457.46,233.65 L457.86,233.25 L458.26,232.85 L458.65,232.45 L459.04,232.06 L459.43,231.66 L459.81,231.27 L460.19,230.88 L460.56,230.48 L460.93,230.09 L461.30,229.70 L461.66,229.32 L462.02,228.93 L462.37,228.54 L462.72,228.16 L463.07,227.77 L463.41,227.39 L463.75,227.01 L464.08,226.63 L464.41,226.24 L464.74,225.87 L465.06,225.49 L465.38,225.11 L465.70,224.73 L466.01,224.36 L466.32,223.98 L466.62,223.61 L466.92,223.24 L467.22,222.87 L467.51,222.50 L467.80,222.13 L468.09,221.76 L468.37,221.39 L468.65,221.03 L468.92,220.66 L469.19,220.30 L469.46,219.93 L469.72,219.57 L469.98,219.21 L470.24,218.85 L470.49,218.49 L470.74,218.13 L470.98,217.78 L471.23,217.42 L471.46,217.06 L471.70,216.71 L471.93,216.36 L472.16,216.01 L472.38,215.65 L472.60,215.30 L472.82,214.96 L473.03,214.61 L473.24,214.26 L473.45,213.91 L473.65,213.57 L473.85,213.23 L474.05,212.88 L474.24,212.54 L474.43,212.20 L474.61,211.86 L474.80,211.52 L474.97,211.18 L475.15,210.85 L475.32,210.51 L475.49,210.18 L475.66,209.84 L475.82,209.51 L475.98,209.18 L476.13,208.85 L476.28,208.52 L476.43,208.19 L476.58,207.86 L476.72,207.53 L476.86,207.21 L476.99,206.88 L477.13,206.56 L477.25,206.24 L477.38,205.92 L477.50,205.59 L477.62,205.28 L477.74,204.96 L477.85,204.64 L477.96,204.32 L478.07,204.01 L478.17,203.69 L478.27,203.38 L478.37,203.07 L478.46,202.75 L478.55,202.44 L478.64,202.13 L478.72,201.83 L478.80,201.52 L478.88,201.21 L478.96,200.91 L479.03,200.60 L479.10,200.30 L479.16,200.00 L479.23,199.70 L479.29,199.39 L479.34,199.10 L479.40,198.80 L479.45,198.50 L479.50,198.20 L479.54,197.91 L479.58,197.61 L479.62,197.32 L479.66,197.03 L479.69,196.74 L479.72,196.45 L479.75,196.16 L479.77,195.87 L479.79,195.58 L479.81,195.30 L479.83,195.01 L479.84,194.73 L479.85,194.44 L479.86,194.16 L479.86,193.88 L479.86,193.60" fill="none" stroke="#111" stroke-width="1.5"/>
<circle cx="391.6" cy="280.7" r="4.2" fill="#D84A2B"/>
<text x="309.70" y="204.70" font-size="17.5" fill="#111" stroke="#111" stroke-width="0.45" textLength="7.70" lengthAdjust="spacingAndGlyphs" >E</text>
<text x="311.70" y="230.00" font-size="12.2" fill="#111" stroke="#111" stroke-width="0.45" textLength="135.80" lengthAdjust="spacingAndGlyphs" >(engineering resilience)</text>
<line x1="299.6" y1="468.1" x2="516.3" y2="468.1" stroke="#B4B4B4" stroke-width="1.7" stroke-dasharray="6.8 4.45"/>
<path d="M336.74,333.75 L337.21,334.54 L337.69,335.31 L338.17,336.08 L338.65,336.84 L339.13,337.60 L339.61,338.35 L340.09,339.10 L340.57,339.85 L341.04,340.59 L341.52,341.33 L342.00,342.06 L342.48,342.79 L342.96,343.52 L343.44,344.24 L343.92,344.97 L344.40,345.68 L344.87,346.40 L345.35,347.11 L345.83,347.82 L346.31,348.53 L346.79,349.24 L347.27,349.94 L347.75,350.64 L348.22,351.33 L348.70,352.03 L349.18,352.72 L349.66,353.41 L350.14,354.10 L350.62,354.78 L351.10,355.47 L351.58,356.15 L352.05,356.83 L352.53,357.50 L353.01,358.17 L353.49,358.85 L353.97,359.52 L354.45,360.18 L354.93,360.85 L355.40,361.51 L355.88,362.17 L356.36,362.83 L356.84,363.49 L357.32,364.14 L357.80,364.79 L358.28,365.44 L358.76,366.09 L359.23,366.74 L359.71,367.38 L360.19,368.02 L360.67,368.66 L361.15,369.30 L361.63,369.94 L362.11,370.57 L362.59,371.21 L363.06,371.84 L363.54,372.46 L364.02,373.09 L364.50,373.72 L364.98,374.34 L365.46,374.96 L365.94,375.58 L366.41,376.19 L366.89,376.81 L367.37,377.42 L367.85,378.03 L368.33,378.64 L368.81,379.25 L369.29,379.86 L369.77,380.46 L370.24,381.06 L370.72,381.66 L371.20,382.26 L371.68,382.86 L372.16,383.45 L372.64,384.05 L373.12,384.64 L373.60,385.23 L374.07,385.81 L374.55,386.40 L375.03,386.98 L375.51,387.57 L375.99,388.15 L376.47,388.72 L376.95,389.30 L377.42,389.88 L377.90,390.45 L378.38,391.02 L378.86,391.59 L379.34,392.16 L379.82,392.72 L380.30,393.29 L380.78,393.85 L381.25,394.41 L381.73,394.97 L382.21,395.53 L382.69,396.08 L383.17,396.64 L383.65,397.19 L384.13,397.74 L384.60,398.29 L385.08,398.83 L385.56,399.38 L386.04,399.92 L386.52,400.46 L387.00,401.00 L387.48,401.54 L387.96,402.08 L388.43,402.61 L388.91,403.14 L389.39,403.67 L389.87,404.20 L390.35,404.73 L390.83,405.26 L391.31,405.78 L391.79,406.30 L392.26,406.82 L392.74,407.34 L393.22,407.86 L393.70,408.37 L394.18,408.89 L394.66,409.40 L395.14,409.91 L395.61,410.42 L396.09,410.92 L396.57,411.43 L397.05,411.93 L397.53,412.43 L398.01,412.93 L398.49,413.43 L398.97,413.93 L399.44,414.42 L399.92,414.91 L400.40,415.41 L400.88,415.89 L401.36,416.38 L401.84,416.87 L402.32,417.35 L402.80,417.83 L403.27,418.31 L403.75,418.79 L404.23,419.27 L404.71,419.74 L405.19,420.22 L405.67,420.69 L406.15,421.16 L406.62,421.63 L407.10,422.09 L407.58,422.56 L408.06,423.02 L408.54,423.48 L409.02,423.94 L409.50,424.40 L409.98,424.85 L410.45,425.31 L410.93,425.76 L411.41,426.21 L411.89,426.66 L412.37,427.10 L412.85,427.55 L413.33,427.99 L413.80,428.43 L414.28,428.87 L414.76,429.31 L415.24,429.74 L415.72,430.18 L416.20,430.61 L416.68,431.04 L417.16,431.47 L417.63,431.89 L418.11,432.32 L418.59,432.74 L419.07,433.16 L419.55,433.58 L420.03,434.00 L420.51,434.42 L420.99,434.83 L421.46,435.24 L421.94,435.65 L422.42,436.06 L422.90,436.46 L423.38,436.87 L423.86,437.27 L424.34,437.67 L424.81,438.07 L425.29,438.47 L425.77,438.86 L426.25,439.25 L426.73,439.64 L427.21,440.03 L427.69,440.42 L428.17,440.81 L428.64,441.19 L429.12,441.57 L429.60,441.95 L430.08,442.33 L430.56,442.70 L431.04,443.08 L431.52,443.45 L432.00,443.82 L432.47,444.18 L432.95,444.55 L433.43,444.91 L433.91,445.27 L434.39,445.63 L434.87,445.99 L435.35,446.34 L435.82,446.70 L436.30,447.05 L436.78,447.40 L437.26,447.75 L437.74,448.09 L438.22,448.43 L438.70,448.77 L439.18,449.11 L439.65,449.45 L440.13,449.78 L440.61,450.12 L441.09,450.45 L441.57,450.77 L442.05,451.10 L442.53,451.42 L443.00,451.74 L443.48,452.06 L443.96,452.38 L444.44,452.69 L444.92,453.01 L445.40,453.32 L445.88,453.62 L446.36,453.93 L446.83,454.23 L447.31,454.53 L447.79,454.83 L448.27,455.13 L448.75,455.42 L449.23,455.72 L449.71,456.01 L450.19,456.29 L450.66,456.58 L451.14,456.86 L451.62,457.14 L452.10,457.42 L452.58,457.69 L453.06,457.96 L453.54,458.23 L454.01,458.50 L454.49,458.76 L454.97,459.03 L455.45,459.29 L455.93,459.54 L456.41,459.80 L456.89,460.05 L457.37,460.30 L457.84,460.54 L458.32,460.79 L458.80,461.03 L459.28,461.26 L459.76,461.50 L460.24,461.73 L460.72,461.96 L461.20,462.19 L461.67,462.41 L462.15,462.63 L462.63,462.85 L463.11,463.06 L463.59,463.27 L464.07,463.48 L464.55,463.69 L465.02,463.89 L465.50,464.08 L465.98,464.28 L466.46,464.47 L466.94,464.66 L467.42,464.84 L467.90,465.02 L468.38,465.20 L468.85,465.38 L469.33,465.55 L469.81,465.71 L470.29,465.87 L470.77,466.03 L471.25,466.18 L471.73,466.33 L472.20,466.48 L472.68,466.62 L473.16,466.76 L473.64,466.89 L474.12,467.01 L474.60,467.13 L475.08,467.25 L475.56,467.36 L476.03,467.46 L476.51,467.56 L476.99,467.65 L477.47,467.73 L477.95,467.81 L478.43,467.88 L478.91,467.93 L479.39,467.98 L479.86,468.00" fill="none" stroke="#111" stroke-width="1.5"/>
<circle cx="391.6" cy="406.2" r="4.2" fill="#D84A2B"/>
<text x="311.90" y="351.90" font-size="17.5" fill="#111" stroke="#111" stroke-width="0.45" textLength="7.50" lengthAdjust="spacingAndGlyphs" >F</text>
<text x="376.10" y="370.90" font-size="12.2" fill="#111" stroke="#111" stroke-width="0.45" textLength="123.70" lengthAdjust="spacingAndGlyphs" >(ecological resilience)</text>
<rect x="60.3" y="46.0" width="215.70" height="426.50" fill="none" stroke="#111" stroke-width="1.4"/>
<line x1="60.3" y1="188.3" x2="276.0" y2="188.3" stroke="#111" stroke-width="1.4"/>
<line x1="60.3" y1="330.4" x2="276.0" y2="330.4" stroke="#111" stroke-width="1.4"/>
<rect x="300.8" y="46.0" width="215.50" height="426.50" fill="none" stroke="#111" stroke-width="1.4"/>
<line x1="300.8" y1="188.3" x2="516.3" y2="188.3" stroke="#111" stroke-width="1.4"/>
<line x1="300.8" y1="330.4" x2="516.3" y2="330.4" stroke="#111" stroke-width="1.4"/>
<line x1="60.30" y1="66.20" x2="53.50" y2="66.20" stroke="#111" stroke-width="1.4"/>
<line x1="60.30" y1="93.60" x2="53.50" y2="93.60" stroke="#111" stroke-width="1.4"/>
<line x1="60.30" y1="121.00" x2="53.50" y2="121.00" stroke="#111" stroke-width="1.4"/>
<line x1="60.30" y1="148.40" x2="53.50" y2="148.40" stroke="#111" stroke-width="1.4"/>
<line x1="60.30" y1="175.80" x2="53.50" y2="175.80" stroke="#111" stroke-width="1.4"/>
<line x1="60.30" y1="204.60" x2="53.50" y2="204.60" stroke="#111" stroke-width="1.4"/>
<line x1="60.30" y1="223.83" x2="53.50" y2="223.83" stroke="#111" stroke-width="1.4"/>
<line x1="60.30" y1="243.06" x2="53.50" y2="243.06" stroke="#111" stroke-width="1.4"/>
<line x1="60.30" y1="262.29" x2="53.50" y2="262.29" stroke="#111" stroke-width="1.4"/>
<line x1="60.30" y1="281.52" x2="53.50" y2="281.52" stroke="#111" stroke-width="1.4"/>
<line x1="60.30" y1="300.75" x2="53.50" y2="300.75" stroke="#111" stroke-width="1.4"/>
<line x1="60.30" y1="319.98" x2="53.50" y2="319.98" stroke="#111" stroke-width="1.4"/>
<line x1="60.30" y1="356.70" x2="53.50" y2="356.70" stroke="#111" stroke-width="1.4"/>
<line x1="60.30" y1="384.93" x2="53.50" y2="384.93" stroke="#111" stroke-width="1.4"/>
<line x1="60.30" y1="413.16" x2="53.50" y2="413.16" stroke="#111" stroke-width="1.4"/>
<line x1="60.30" y1="441.39" x2="53.50" y2="441.39" stroke="#111" stroke-width="1.4"/>
<line x1="60.30" y1="469.62" x2="53.50" y2="469.62" stroke="#111" stroke-width="1.4"/>
<line x1="516.30" y1="51.20" x2="523.10" y2="51.20" stroke="#111" stroke-width="1.4"/>
<line x1="516.30" y1="73.10" x2="523.10" y2="73.10" stroke="#111" stroke-width="1.4"/>
<line x1="516.30" y1="95.00" x2="523.10" y2="95.00" stroke="#111" stroke-width="1.4"/>
<line x1="516.30" y1="116.90" x2="523.10" y2="116.90" stroke="#111" stroke-width="1.4"/>
<line x1="516.30" y1="138.80" x2="523.10" y2="138.80" stroke="#111" stroke-width="1.4"/>
<line x1="516.30" y1="160.70" x2="523.10" y2="160.70" stroke="#111" stroke-width="1.4"/>
<line x1="516.30" y1="182.60" x2="523.10" y2="182.60" stroke="#111" stroke-width="1.4"/>
<line x1="516.30" y1="193.60" x2="523.10" y2="193.60" stroke="#111" stroke-width="1.4"/>
<line x1="516.30" y1="232.20" x2="523.10" y2="232.20" stroke="#111" stroke-width="1.4"/>
<line x1="516.30" y1="270.80" x2="523.10" y2="270.80" stroke="#111" stroke-width="1.4"/>
<line x1="516.30" y1="309.40" x2="523.10" y2="309.40" stroke="#111" stroke-width="1.4"/>
<line x1="516.30" y1="467.60" x2="523.10" y2="467.60" stroke="#111" stroke-width="1.4"/>
<line x1="516.30" y1="432.35" x2="523.10" y2="432.35" stroke="#111" stroke-width="1.4"/>
<line x1="516.30" y1="397.10" x2="523.10" y2="397.10" stroke="#111" stroke-width="1.4"/>
<line x1="516.30" y1="361.85" x2="523.10" y2="361.85" stroke="#111" stroke-width="1.4"/>
<line x1="68.60" y1="472.50" x2="68.60" y2="482.00" stroke="#111" stroke-width="1.4"/>
<line x1="99.72" y1="472.50" x2="99.72" y2="482.00" stroke="#111" stroke-width="1.4"/>
<line x1="130.84" y1="472.50" x2="130.84" y2="482.00" stroke="#111" stroke-width="1.4"/>
<line x1="161.96" y1="472.50" x2="161.96" y2="482.00" stroke="#111" stroke-width="1.4"/>
<line x1="193.08" y1="472.50" x2="193.08" y2="482.00" stroke="#111" stroke-width="1.4"/>
<line x1="224.20" y1="472.50" x2="224.20" y2="482.00" stroke="#111" stroke-width="1.4"/>
<line x1="255.32" y1="472.50" x2="255.32" y2="482.00" stroke="#111" stroke-width="1.4"/>
<line x1="308.50" y1="472.50" x2="308.50" y2="482.00" stroke="#111" stroke-width="1.4"/>
<line x1="341.77" y1="472.50" x2="341.77" y2="482.00" stroke="#111" stroke-width="1.4"/>
<line x1="375.04" y1="472.50" x2="375.04" y2="482.00" stroke="#111" stroke-width="1.4"/>
<line x1="408.31" y1="472.50" x2="408.31" y2="482.00" stroke="#111" stroke-width="1.4"/>
<line x1="441.58" y1="472.50" x2="441.58" y2="482.00" stroke="#111" stroke-width="1.4"/>
<line x1="474.85" y1="472.50" x2="474.85" y2="482.00" stroke="#111" stroke-width="1.4"/>
<line x1="508.12" y1="472.50" x2="508.12" y2="482.00" stroke="#111" stroke-width="1.4"/>
<text transform="translate(42.20,64.90) rotate(-90)" x="0" y="0" font-size="10.5" text-anchor="middle" dominant-baseline="central" fill="#111" stroke="#111" stroke-width="0.45">0</text>
<text transform="translate(42.70,242.60) rotate(-90)" x="0" y="0" font-size="10.5" text-anchor="middle" dominant-baseline="central" fill="#111" stroke="#111" stroke-width="0.45">0</text>
<text transform="translate(532.50,118.90) rotate(-90)" x="0" y="0" font-size="10.5" text-anchor="middle" dominant-baseline="central" fill="#111" stroke="#111" stroke-width="0.45">0</text>
<text transform="translate(533.00,194.30) rotate(-90)" x="0" y="0" font-size="10.5" text-anchor="middle" dominant-baseline="central" fill="#111" stroke="#111" stroke-width="0.45">0</text>
<text transform="translate(533.00,468.80) rotate(-90)" x="0" y="0" font-size="10.5" text-anchor="middle" dominant-baseline="central" fill="#111" stroke="#111" stroke-width="0.45">0</text>
<text x="57.90" y="497.10" font-size="10.5" fill="#111" stroke="#111" stroke-width="0.45" textLength="13.60" lengthAdjust="spacingAndGlyphs" >−3</text>
<text x="159.60" y="497.10" font-size="10.5" fill="#111" stroke="#111" stroke-width="0.45" textLength="5.60" lengthAdjust="spacingAndGlyphs" >0</text>
<text x="251.90" y="497.10" font-size="10.5" fill="#111" stroke="#111" stroke-width="0.45" textLength="5.80" lengthAdjust="spacingAndGlyphs" >3</text>
<text x="334.10" y="497.20" font-size="10.5" fill="#111" stroke="#111" stroke-width="0.45" textLength="14.10" lengthAdjust="spacingAndGlyphs" >−4</text>
<text x="406.10" y="497.20" font-size="10.5" fill="#111" stroke="#111" stroke-width="0.45" textLength="6.30" lengthAdjust="spacingAndGlyphs" >0</text>
<text x="471.20" y="497.20" font-size="10.5" fill="#111" stroke="#111" stroke-width="0.45" textLength="6.00" lengthAdjust="spacingAndGlyphs" >4</text>
<text x="121.00" y="511.30" font-size="14" fill="#111" stroke="#111" stroke-width="0.45" textLength="60.50" lengthAdjust="spacingAndGlyphs" >variable x</text>
<text x="372.60" y="512.20" font-size="14" fill="#111" stroke="#111" stroke-width="0.45" textLength="77.30" lengthAdjust="spacingAndGlyphs" >parameter ɑ</text>
<text x="450.90" y="516.00" font-size="7.5" fill="#111" stroke="#111" stroke-width="0.45" textLength="5.10" lengthAdjust="spacingAndGlyphs" >0</text>
<text transform="translate(28.00,157.40) rotate(-90)" x="0" y="0" font-size="14.5" fill="#111" stroke="#111" stroke-width="0.45" textLength="86.70" lengthAdjust="spacingAndGlyphs">potential U(x)</text>
<text transform="translate(11.00,330.80) rotate(-90)" x="0" y="0" font-size="14.5" fill="#111" stroke="#111" stroke-width="0.45" textLength="130.70" lengthAdjust="spacingAndGlyphs">potenital slope, -U′(x)</text>
<text transform="translate(29.30,314.80) rotate(-90)" x="0" y="0" font-size="14.5" fill="#111" stroke="#111" stroke-width="0.45" textLength="98.40" lengthAdjust="spacingAndGlyphs">(rate of change)</text>
<text transform="translate(14.50,440.80) rotate(-90)" x="0" y="0" font-size="14.5" fill="#111" stroke="#111" stroke-width="0.45" textLength="69.90" lengthAdjust="spacingAndGlyphs">probability</text>
<text transform="translate(31.80,455.40) rotate(-90)" x="0" y="0" font-size="14.5" fill="#111" stroke="#111" stroke-width="0.45" textLength="101.10" lengthAdjust="spacingAndGlyphs">distribution P(x)</text>
<text transform="translate(558.50,150.80) rotate(-90)" x="0" y="0" font-size="14.5" fill="#111" stroke="#111" stroke-width="0.45" textLength="73.40" lengthAdjust="spacingAndGlyphs">equilibrium</text>
<text transform="translate(554.00,318.40) rotate(-90)" x="0" y="0" font-size="14.5" fill="#111" stroke="#111" stroke-width="0.45" textLength="106.70" lengthAdjust="spacingAndGlyphs">curvature (U′′(x))</text>
<text transform="translate(572.00,310.40) rotate(-90)" x="0" y="0" font-size="14.5" fill="#111" stroke="#111" stroke-width="0.45" textLength="92.00" lengthAdjust="spacingAndGlyphs">(eigenvalue, λ)</text>
<text transform="translate(554.60,454.10) rotate(-90)" x="0" y="0" font-size="14.5" fill="#111" stroke="#111" stroke-width="0.45" textLength="100.10" lengthAdjust="spacingAndGlyphs">potential depth</text>
<text transform="translate(572.00,427.40) rotate(-90)" x="0" y="0" font-size="14.5" fill="#111" stroke="#111" stroke-width="0.45" textLength="45.40" lengthAdjust="spacingAndGlyphs">(ΔU(x))</text>
<text x="83.90" y="11.70" font-size="15.5" fill="#111" stroke="#111" stroke-width="0.45" textLength="166.10" lengthAdjust="spacingAndGlyphs" >resilience IN state-space</text>
<text x="57.60" y="31.80" font-size="15.5" fill="#111" stroke="#111" stroke-width="0.45" textLength="218.00" lengthAdjust="spacingAndGlyphs" >(perturbations on the variables)</text>
<text x="321.00" y="11.70" font-size="15.5" fill="#111" stroke="#111" stroke-width="0.45" textLength="175.50" lengthAdjust="spacingAndGlyphs" >resilience OF state–space</text>
<text x="290.70" y="31.80" font-size="15.5" fill="#111" stroke="#111" stroke-width="0.45" textLength="236.90" lengthAdjust="spacingAndGlyphs" >(perturbations on the parameters)</text>
<line x1="208.3" y1="518.6" x2="235.7" y2="518.6" stroke="#111" stroke-width="1.5"/>
<circle cx="251.8" cy="519.0" r="4.6" fill="#111"/>
<text x="268.70" y="523.40" font-size="13.5" fill="#111" stroke="#111" stroke-width="0.45" textLength="93.90" lengthAdjust="spacingAndGlyphs" >stable attractors</text>
<line x1="208.3" y1="536.0" x2="235.7" y2="536.0" stroke="#111" stroke-width="1.5" stroke-dasharray="3.3 4.6"/>
<circle cx="251.8" cy="535.8" r="3.6" fill="#fff" stroke="#111" stroke-width="1.3"/>
<text x="269.60" y="540.30" font-size="13.5" fill="#111" stroke="#111" stroke-width="0.45" textLength="109.40" lengthAdjust="spacingAndGlyphs" >unstable attractors</text>
<line x1="136.60" y1="553.60" x2="157.15" y2="553.60" stroke="#D84A2B" stroke-width="1.8"/><polygon points="163.00,553.60 156.50,556.80 157.15,553.60 156.50,550.40" fill="#D84A2B"/>
<text x="177.80" y="558.80" font-size="13.5" fill="#111" stroke="#111" stroke-width="0.45" textLength="113.30" lengthAdjust="spacingAndGlyphs" >direction of change</text>
<circle cx="303.4" cy="554.6" r="4.2" fill="#A8A9AD"/>
<text x="312.20" y="558.80" font-size="13.5" fill="#111" stroke="#111" stroke-width="0.45" textLength="132.10" lengthAdjust="spacingAndGlyphs" >(fold) bifurcation point</text>
</svg></body></html>
